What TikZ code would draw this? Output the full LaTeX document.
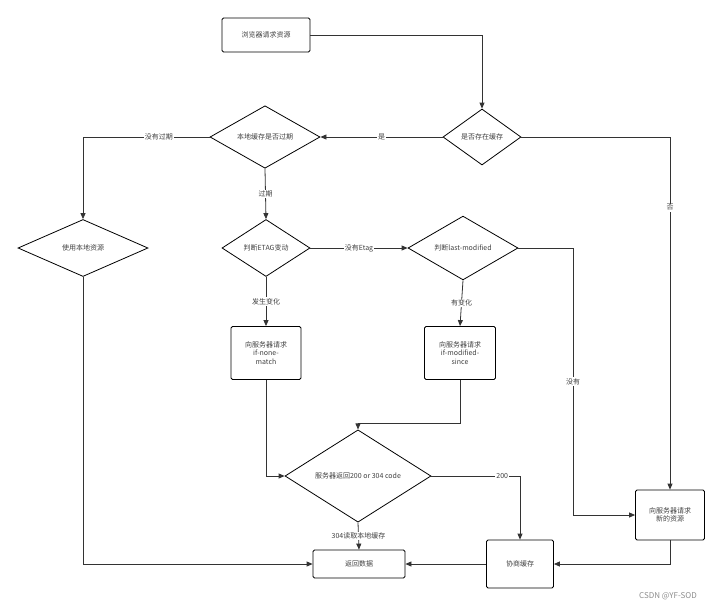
\documentclass[tikz,border=0pt]{standalone}
\usepackage{fontspec}
\setmainfont{Noto Sans CJK SC}
\usetikzlibrary{shapes.geometric,arrows.meta}
\begin{document}
\begin{tikzpicture}[x=1pt,y=-1pt,
  every node/.style={font=\fontsize{7}{8.5}\selectfont,text=black!75},
  box/.style={draw,thick,rounded corners=1.5pt,minimum width=#1,align=center,inner sep=2pt},
  dia/.style={draw,thick,diamond,inner sep=0pt},
  lab/.style={fill=white,inner sep=1pt},
  arr/.style={draw,thick,black!80,-{Triangle[length=6pt,width=5pt]}}]
\useasboundingbox (0,0) rectangle (723,611);
\node[box=88pt,minimum height=34pt] (start) at (266,35) {浏览器请求资源};
\node[dia,minimum width=78pt,minimum height=56pt] (exist) at (482,137) {是否存在缓存};
\node[dia,minimum width=110pt,minimum height=57pt] (exp) at (265,137) {本地缓存是否过期};
\node[dia,minimum width=130pt,minimum height=57pt] (use) at (83,248) {使用本地资源};
\node[dia,minimum width=88pt,minimum height=57pt] (etag) at (266,248) {判断ETAG变动};
\node[dia,minimum width=110pt,minimum height=57pt] (lm) at (463,248) {判断last-modified};
\node[box=70pt,minimum height=53pt] (b1) at (266,353) {向服务器请求\\if-none-\\match};
\node[box=71pt,minimum height=53pt] (b2) at (460,353) {向服务器请求\\if-modified-\\since};
\node[dia,minimum width=146pt,minimum height=60pt] (srv) at (358,476) {服务器返回200 or 304 code};
\node[box=92pt,minimum height=28pt] (ret) at (359,564) {返回数据};
\node[box=67pt,minimum height=48pt] (neg) at (520,564) {协商缓存};
\node[box=69pt,minimum height=50pt] (new) at (670,515) {向服务器请求\\新的资源};
\node[text=black!45,font=\fontsize{8}{9}\selectfont] (wm) at (668,596) {CSDN @YF-SOD};

\path[arr] (start.east) -| (exist.north);
\path[arr] (exist.west) -- node[lab]{是} (exp.east);
\path[arr] (exist.east) -| node[lab,pos=0.6]{否} (new.north);
\path[arr] (exp.west) -| (use.north) node[lab,pos=0.2]{没有过期};
\path[arr] (exp.south) -- node[lab]{过期} (etag.north);
\path[arr] (etag.east) -- node[lab]{没有Etag} (lm.west);
\path[arr] (etag.south) -- node[lab]{发生变化} (b1.north);
\path[arr] (lm.south) -- node[lab]{有变化} (b2.north);
\path[arr] (lm.east) -| ++(0,0) -- (573,248) -- node[lab,pos=0.5]{没有} (573,515) -- (new.west);
\path[arr] (b1.south) |- (srv.west);
\path[arr] (b2.south) -- (460,423) -| (srv.north);
\path[arr] (srv.east) -| node[lab,pos=0.4]{200} (neg.north);
\path[arr] (srv.south) -- node[lab]{304读取本地缓存} (ret.north);
\path[arr] (use.south) |- (ret.west);
\path[arr] (new.south) |- (neg.east);
\path[arr] (neg.west) -- (ret.east);
\end{tikzpicture}
\end{document}
